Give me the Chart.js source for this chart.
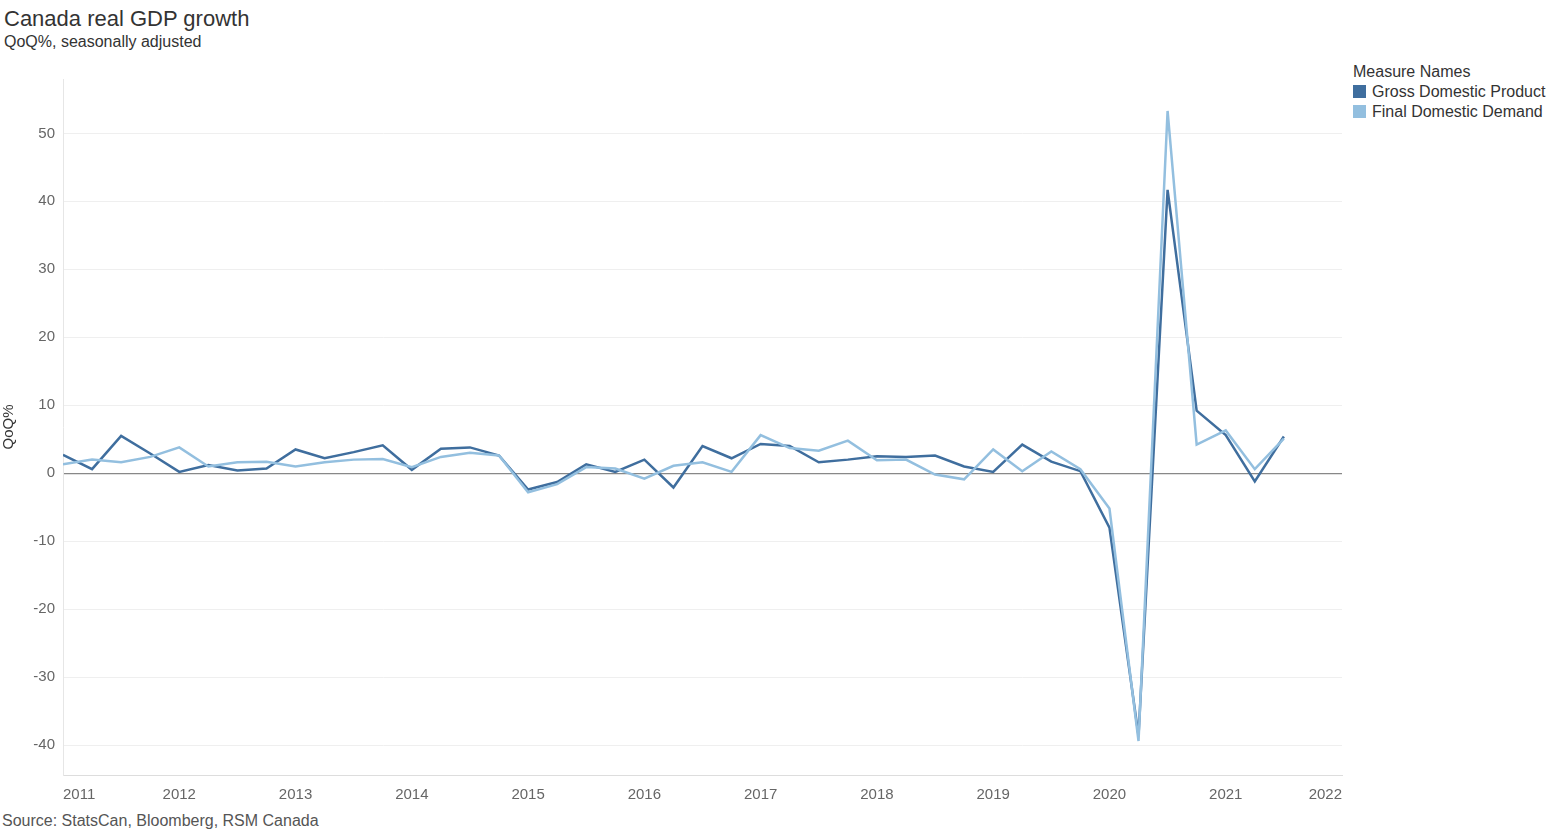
<!DOCTYPE html>
<html><head><meta charset="utf-8">
<script src="https://cdn.jsdelivr.net/npm/chart.js@4"></script>
<style>
body{margin:0;width:1552px;height:831px;background:#fff;font-family:"Liberation Sans",Arial,sans-serif;position:relative;overflow:hidden}
#t{position:absolute;left:4px;top:6px;font-size:22px;color:#333}
#s{position:absolute;left:4px;top:33px;font-size:16px;color:#333}
#src{position:absolute;left:2px;top:812px;font-size:16px;color:#555}
#lg{position:absolute;left:1353px;top:62px;font-size:16px;color:#333;line-height:20px}
#lg span{display:inline-block;width:13px;height:13px;margin-right:6px;vertical-align:-1px}
#wrap{position:absolute;left:0;top:62px;width:1345px;height:743px}
</style></head><body>
<div id="t">Canada real GDP growth</div>
<div id="s">QoQ%, seasonally adjusted</div>
<div id="lg">Measure Names<br><span style="background:#3f6e9e"></span>Gross Domestic Product<br><span style="background:#93bfdf"></span>Final Domestic Demand</div>
<div id="wrap"><canvas id="c"></canvas></div>
<div id="src">Source: StatsCan, Bloomberg, RSM Canada</div>
<script>
const startYear = 2011;
const gdp = [2.7,0.6,5.5,2.9,0.2,1.2,0.4,0.7,3.5,2.2,3.1,4.1,0.5,3.6,3.8,2.6,-2.4,-1.3,1.3,0.2,2.0,-2.1,4.0,2.2,4.3,4.0,1.6,2.0,2.5,2.4,2.6,1.0,0.2,4.2,1.7,0.3,-8.0,-38.6,41.7,9.2,5.6,-1.2,5.4];
const fdd = [1.3,2.0,1.6,2.4,3.8,1.0,1.6,1.7,1.0,1.6,2.0,2.1,0.9,2.4,3.0,2.6,-2.8,-1.6,0.9,0.7,-0.8,1.1,1.6,0.2,5.6,3.7,3.3,4.8,1.9,2.0,-0.2,-0.9,3.5,0.3,3.2,0.6,-5.2,-39.4,53.3,4.2,6.3,0.6,5.1];
const pts = a => a.map((v,i)=>({x:startYear+i/4,y:v}));
new Chart(document.getElementById('c'),{
 type:'line',
 data:{datasets:[
  {label:'Final Domestic Demand',data:pts(fdd),borderColor:'#93bfdf',borderWidth:2.5,pointRadius:0,tension:0},
  {label:'Gross Domestic Product',data:pts(gdp),borderColor:'#3f6e9e',borderWidth:2.5,pointRadius:0,tension:0}
 ]},
 options:{responsive:true,maintainAspectRatio:false,animation:false,
  layout:{padding:0},
  plugins:{legend:{display:false},tooltip:{enabled:false}},
  scales:{
   x:{type:'linear',min:2011,max:2022,
    afterBuildTicks:s=>{s.ticks=s.ticks.filter(t=>Number.isInteger(t.value));},
    afterFit:s=>{s.height=30;},
    ticks:{stepSize:1,autoSkip:false,maxRotation:0,align:'inner',color:'#666',font:{family:'Liberation Sans',size:15},callback:v=>String(v)},
    grid:{display:false},border:{color:'#ddd'}},
   y:{min:-44.4,max:58,
    afterBuildTicks:s=>{s.ticks=s.ticks.filter(t=>t.value%10===0);},
    afterFit:s=>{s.width=63;},
    ticks:{stepSize:10,color:'#666',font:{family:'Liberation Sans',size:15},padding:8},
    title:{display:true,text:'QoQ%',color:'#333',font:{family:'Liberation Sans',size:15},padding:0},
    grid:{color:c=>c.tick&&c.tick.value===0?'#888':'#efefef',lineWidth:c=>c.tick&&c.tick.value===0?1.2:1,drawTicks:false},
    border:{color:'#e6e6e6'}}
  }}
});
</script></body></html>
